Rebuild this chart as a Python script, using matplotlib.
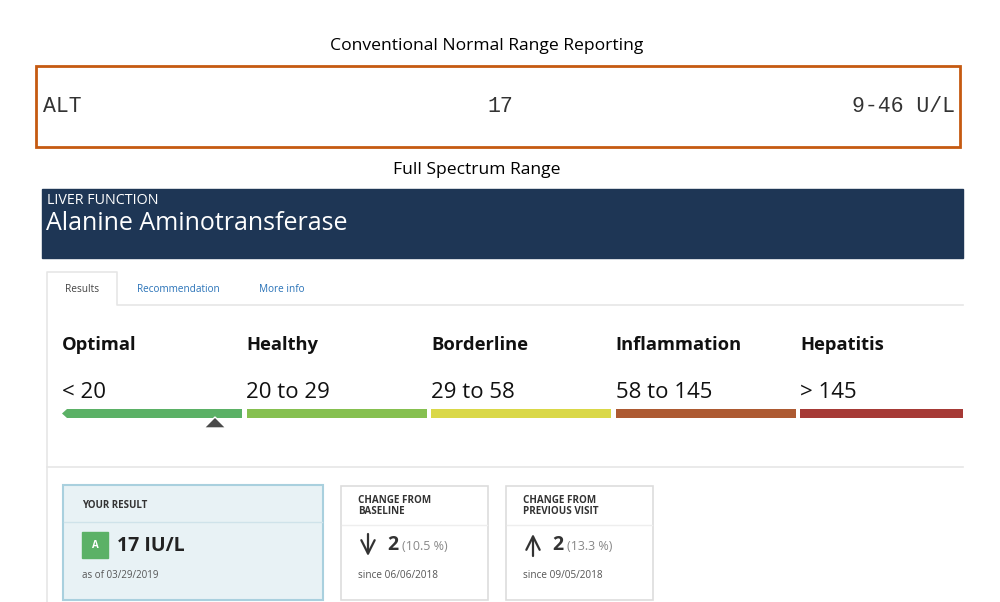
import matplotlib
matplotlib.use('Agg')
from matplotlib import pyplot as plt
from matplotlib.patches import Rectangle, Polygon

# ------------------------------ data ------------------------------
test_name = 'ALT'
test_value = 17
normal_range = '9-46 U/L'

categories = ['Optimal', 'Healthy', 'Borderline', 'Inflammation', 'Hepatitis']
ranges = ['< 20', '20 to 29', '29 to 58', '58 to 145', '> 145']
range_lo = [0, 20, 29, 58, 145]
range_hi = [20, 29, 58, 145, 300]
colors = ['#5bb166', '#86c050', '#dad848', '#ad5a32', '#a63a36']

result_unit = 'IU/L'
result_date = '03/29/2019'
changes = [('CHANGE FROM\nBASELINE', 'down', 2, 10.5, '06/06/2018'),
           ('CHANGE FROM\nPREVIOUS VISIT', 'up', 2, 13.3, '09/05/2018')]

SANS = ['Open Sans', 'DejaVu Sans']
MONO = ['Liberation Mono', 'DejaVu Sans Mono']

fig = plt.figure(figsize=(10, 6.02), dpi=100)
ax = fig.add_axes([0, 0, 1, 1])
ax.set_xlim(0, 1000)
ax.set_ylim(602, 0)
ax.axis('off')

# ------------------------------ conventional box ------------------------------
ax.text(487, 46, 'Conventional Normal Range Reporting', ha='center', va='center',
        fontsize=12.6, family=SANS)
ax.add_patch(Rectangle((36, 66), 924, 81, fill=False, ec='#c55a11', lw=2))
ax.text(43, 107, test_name, ha='left', va='center', fontsize=15.5, family=MONO, color='#333333')
ax.text(500, 106, str(test_value), ha='center', va='center', fontsize=15.5, family=MONO, color='#333333')
ax.text(955, 107, normal_range, ha='right', va='center', fontsize=15.5, family=MONO, color='#333333')

# ------------------------------ full spectrum ------------------------------
ax.text(477, 170, 'Full Spectrum Range', ha='center', va='center', fontsize=12.6, family=SANS)
ax.add_patch(Rectangle((42, 189), 921, 69, color='#1e3655'))
ax.text(47, 200, 'LIVER FUNCTION', ha='left', va='center', fontsize=10.3, color='white', family=SANS)
ax.text(46, 223, 'Alanine Aminotransferase', ha='left', va='center', fontsize=18, color='white', family=SANS)

# tabs
grey = '#e6e6e6'
ax.plot([47, 47, 117, 117, 963], [602, 272, 272, 305, 305], color=grey, lw=1.2)
ax.text(82, 290, 'Results', ha='center', va='center', fontsize=7.3, color='#444444', family=SANS)
ax.text(137, 290, 'Recommendation', ha='left', va='center', fontsize=7.2, color='#2a73b8', family=SANS)
ax.text(259, 290, 'More info', ha='left', va='center', fontsize=7.2, color='#2a73b8', family=SANS)

# spectrum bar
seg_x0, seg_step, seg_w = 62, 184.5, 180
for i, (cat, rng, col) in enumerate(zip(categories, ranges, colors)):
    x0 = seg_x0 + i * seg_step
    w = seg_w if i < len(categories) - 1 else 963 - x0
    ax.text(x0, 345, cat, ha='left', va='center', fontsize=13.2, fontweight='bold', family=SANS, color='#111111')
    ax.text(x0, 392, rng, ha='left', va='center', fontsize=16, family=SANS, color='#111111')
    if i == 0:
        ax.add_patch(Polygon([(x0, 413.5), (x0 + 5, 409), (x0 + w, 409), (x0 + w, 418), (x0 + 5, 418)],
                             closed=True, color=col, lw=0))
    else:
        ax.add_patch(Rectangle((x0, 409), w, 9, color=col, lw=0))

# marker for result within its band
band = [i for i in range(len(range_lo)) if range_lo[i] <= test_value < range_hi[i]][0]
mx = seg_x0 + band * seg_step + seg_w * (test_value - range_lo[band]) / (range_hi[band] - range_lo[band])
ax.add_patch(Polygon([(mx - 11, 428), (mx, 417), (mx + 11, 428)], closed=True,
                     fc='#4a4a4a', ec='white', lw=1))

ax.plot([47, 963], [467, 467], color=grey, lw=1.2)

# ------------------------------ result cards ------------------------------
ax.add_patch(Rectangle((63, 485), 260, 115, fc='#e8f2f5', ec='#a9d0de', lw=1.5))
ax.plot([64, 322], [522, 522], color='#cfe3ea', lw=1)
ax.text(82, 505, 'YOUR RESULT', ha='left', va='center', fontsize=7, fontweight='bold',
        color='#333333', family=SANS)
ax.add_patch(Rectangle((82, 532), 26, 26, color=colors[band]))
ax.text(95, 545, 'A', ha='center', va='center', fontsize=7, fontweight='bold', color='white', family=SANS)
ax.text(117, 546, f'{test_value} {result_unit}', ha='left', va='center', fontsize=14,
        fontweight='bold', color='#222222', family=SANS)
ax.text(82, 575, f'as of {result_date}', ha='left', va='center', fontsize=7, color='#555555', family=SANS)

for k, (title, direction, delta, pct, since) in enumerate(changes):
    cx = 341 + k * 165
    ax.add_patch(Rectangle((cx, 486), 147, 114, fc='white', ec='#dddddd', lw=1.2))
    ax.plot([cx + 1, cx + 146], [525, 525], color='#eeeeee', lw=1)
    ax.text(cx + 17, 506, title, ha='left', va='center', fontsize=7.1, fontweight='bold',
            color='#333333', family=SANS, linespacing=0.9)
    arr_x = cx + 27
    start, end = (534, 556) if direction == 'down' else (556, 534)
    ax.annotate('', xy=(arr_x, end), xytext=(arr_x, start),
                arrowprops=dict(arrowstyle='->', color='#333333', lw=1.6, mutation_scale=24,
                                shrinkA=0, shrinkB=0))
    ax.text(cx + 46, 545, str(delta), ha='left', va='center', fontsize=14, fontweight='bold',
            color='#333333', family=SANS)
    ax.text(cx + 61, 546, f'({pct} %)', ha='left', va='center', fontsize=9, color='#888888', family=SANS)
    ax.text(cx + 17, 575, f'since {since}', ha='left', va='center', fontsize=7.2, color='#555555', family=SANS)

fig.savefig('out.png', dpi=100)
